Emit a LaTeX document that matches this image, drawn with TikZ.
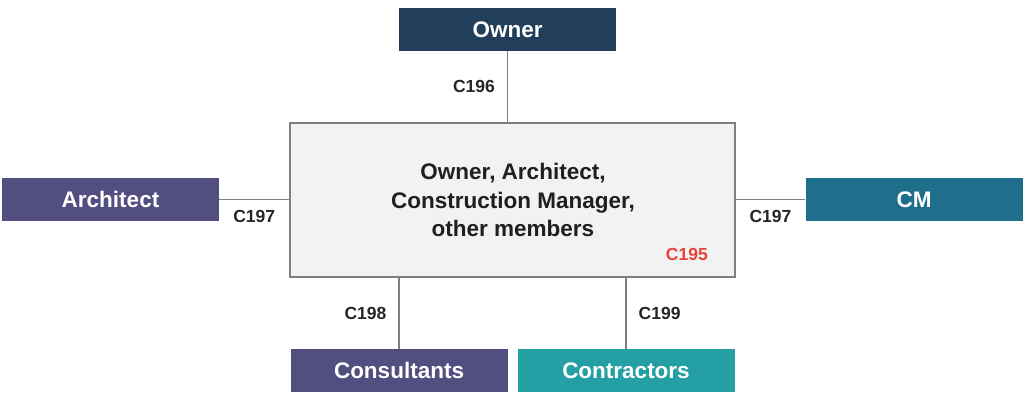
\documentclass[tikz,border=0pt]{standalone}
\usepackage{fontspec}
\setmainfont{Liberation Sans}
\usepackage{xcolor}
\usetikzlibrary{calc}
\definecolor{ownerblue}{HTML}{213F5A}
\definecolor{archpurple}{HTML}{524E80}
\definecolor{cmblue}{HTML}{1F6E8C}
\definecolor{contrteal}{HTML}{24A0A4}
\definecolor{teamgray}{HTML}{F2F2F2}
\definecolor{linegray}{HTML}{7F7F7F}
\definecolor{codered}{HTML}{E8423A}
\tikzset{
	party/.style={
			draw=none, text=white, inner sep=0pt,
			minimum width=217pt, minimum height=43pt,
			font=\fontsize{22.5}{26}\selectfont\bfseries
		},
	link/.style={draw=linegray, line width=1.3pt},
	code/.style={font=\fontsize{17.5}{20}\selectfont\bfseries, text=black!85, inner sep=0pt}
}

\begin{document}
\begin{tikzpicture}[x=1pt, y=-1pt]
			\useasboundingbox (0,0) rectangle (1024,401);
			\node[draw=linegray, line width=1.3pt, fill=teamgray, inner sep=0pt,
				minimum width=445pt, minimum height=154pt] (team) at (512.5,200) {};
			\node[align=center, font=\fontsize{22.5}{28.5}\selectfont\bfseries, text=black!88] (teamtext) at (513,200)
				{Owner, Architect,\\Construction Manager,\\other members};
			\node[code, text=codered, anchor=east] (c195) at (708,254) {C195};

			\node[party, fill=ownerblue] (owner) at (507.5,29.5) {Owner};
			\node[party, fill=archpurple] (architect) at (110.5,199.5) {Architect};
			\node[party, fill=cmblue] (cm) at (914,199.5) {CM};
			\node[party, fill=archpurple] (consultants) at (399,370.5) {Consultants};
			\node[party, fill=contrteal] (contractors) at (626,370.5) {Contractors};

			\draw[link] (owner.south) -- node[code, left=12pt] {C196} (owner.south |- team.north);
			\draw[link] (architect.east) -- node[code, below=10pt] {C197} (architect.east -| team.west);
			\draw[link] (cm.west) -- node[code, below=10pt] {C197} (cm.west -| team.east);
			\draw[link] (consultants.north) -- node[code, left=12pt] {C198} (consultants.north |- team.south);
			\draw[link] (contractors.north) -- node[code, right=12pt] {C199} (contractors.north |- team.south);
		\end{tikzpicture}
\end{document}
